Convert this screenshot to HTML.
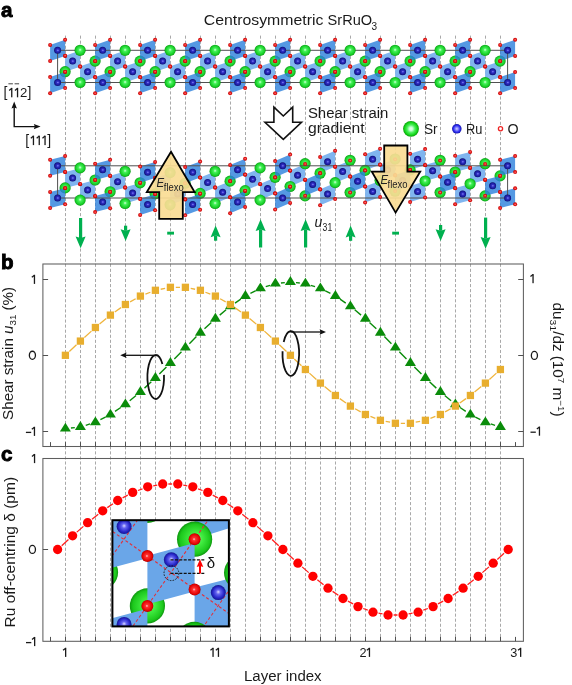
<!DOCTYPE html>
<html><head><meta charset="utf-8"><style>
html,body{margin:0;padding:0;background:#fff;overflow:hidden;}
svg{display:block;will-change:transform;}
text{font-family:"Liberation Sans", sans-serif;}
</style></head><body>
<svg width="572" height="685" viewBox="0 0 572 685">
<defs>
<radialGradient id="gSr" cx="0.5" cy="0.5" r="0.5" fx="0.5" fy="0.45">
 <stop offset="0" stop-color="#d8ffe0"/><stop offset="0.3" stop-color="#44f258"/><stop offset="0.8" stop-color="#16cc26"/><stop offset="1" stop-color="#0a9a14"/>
</radialGradient>
<radialGradient id="gRu" cx="0.5" cy="0.5" r="0.5" fx="0.55" fy="0.5">
 <stop offset="0" stop-color="#9a9aff"/><stop offset="0.3" stop-color="#3434c8"/><stop offset="0.8" stop-color="#181898"/><stop offset="1" stop-color="#0c0c6a"/>
</radialGradient>
<radialGradient id="gO" cx="0.5" cy="0.5" r="0.5">
 <stop offset="0" stop-color="#ffb0b0"/><stop offset="0.4" stop-color="#f02424"/><stop offset="1" stop-color="#c00000"/>
</radialGradient>
<radialGradient id="gSrL" cx="0.5" cy="0.5" r="0.5" fx="0.5" fy="0.5">
 <stop offset="0" stop-color="#eafff0"/><stop offset="0.22" stop-color="#c4ffd2"/><stop offset="0.5" stop-color="#4cf05c"/><stop offset="0.82" stop-color="#12d416"/><stop offset="1" stop-color="#0a960a"/>
</radialGradient>
<radialGradient id="gRuL" cx="0.5" cy="0.5" r="0.5" fx="0.5" fy="0.5">
 <stop offset="0" stop-color="#d4d4ff"/><stop offset="0.3" stop-color="#8a8aff"/><stop offset="0.7" stop-color="#2c2cee"/><stop offset="1" stop-color="#1414a8"/>
</radialGradient>
<radialGradient id="gSr2" cx="0.5" cy="0.5" r="0.5" fx="0.58" fy="0.48">
 <stop offset="0" stop-color="#b0ffb0"/><stop offset="0.3" stop-color="#46f046"/><stop offset="0.85" stop-color="#1cc81c"/><stop offset="1" stop-color="#0e960e"/>
</radialGradient>
<radialGradient id="gRu2" cx="0.5" cy="0.5" r="0.5" fx="0.5" fy="0.45">
 <stop offset="0" stop-color="#d8d8ff"/><stop offset="0.3" stop-color="#6464f0"/><stop offset="0.75" stop-color="#2626c8"/><stop offset="1" stop-color="#161690"/>
</radialGradient>
<radialGradient id="gO2" cx="0.5" cy="0.5" r="0.5" fx="0.45" fy="0.5">
 <stop offset="0" stop-color="#ffd0d0"/><stop offset="0.25" stop-color="#ff3030"/><stop offset="0.85" stop-color="#e00000"/><stop offset="1" stop-color="#a00000"/>
</radialGradient>
</defs>
<rect x="0" y="0" width="572" height="685" fill="#fff"/>
<line x1="65.5" y1="35.6" x2="65.5" y2="641" stroke="#a9a9a9" stroke-width="1" stroke-dasharray="3.1 1.97"/>
<line x1="80.5" y1="35.6" x2="80.5" y2="641" stroke="#a9a9a9" stroke-width="1" stroke-dasharray="3.1 1.97"/>
<line x1="95.5" y1="35.6" x2="95.5" y2="641" stroke="#a9a9a9" stroke-width="1" stroke-dasharray="3.1 1.97"/>
<line x1="110.5" y1="35.6" x2="110.5" y2="641" stroke="#a9a9a9" stroke-width="1" stroke-dasharray="3.1 1.97"/>
<line x1="125.5" y1="35.6" x2="125.5" y2="641" stroke="#a9a9a9" stroke-width="1" stroke-dasharray="3.1 1.97"/>
<line x1="140.5" y1="35.6" x2="140.5" y2="641" stroke="#a9a9a9" stroke-width="1" stroke-dasharray="3.1 1.97"/>
<line x1="155.5" y1="35.6" x2="155.5" y2="641" stroke="#a9a9a9" stroke-width="1" stroke-dasharray="3.1 1.97"/>
<line x1="170.5" y1="35.6" x2="170.5" y2="641" stroke="#a9a9a9" stroke-width="1" stroke-dasharray="3.1 1.97"/>
<line x1="185.5" y1="35.6" x2="185.5" y2="641" stroke="#a9a9a9" stroke-width="1" stroke-dasharray="3.1 1.97"/>
<line x1="200.5" y1="35.6" x2="200.5" y2="641" stroke="#a9a9a9" stroke-width="1" stroke-dasharray="3.1 1.97"/>
<line x1="215.5" y1="35.6" x2="215.5" y2="641" stroke="#a9a9a9" stroke-width="1" stroke-dasharray="3.1 1.97"/>
<line x1="230.5" y1="35.6" x2="230.5" y2="641" stroke="#a9a9a9" stroke-width="1" stroke-dasharray="3.1 1.97"/>
<line x1="245.5" y1="35.6" x2="245.5" y2="641" stroke="#a9a9a9" stroke-width="1" stroke-dasharray="3.1 1.97"/>
<line x1="260.5" y1="35.6" x2="260.5" y2="641" stroke="#a9a9a9" stroke-width="1" stroke-dasharray="3.1 1.97"/>
<line x1="275.5" y1="35.6" x2="275.5" y2="641" stroke="#a9a9a9" stroke-width="1" stroke-dasharray="3.1 1.97"/>
<line x1="290.5" y1="35.6" x2="290.5" y2="641" stroke="#a9a9a9" stroke-width="1" stroke-dasharray="3.1 1.97"/>
<line x1="305.5" y1="35.6" x2="305.5" y2="641" stroke="#a9a9a9" stroke-width="1" stroke-dasharray="3.1 1.97"/>
<line x1="320.5" y1="35.6" x2="320.5" y2="641" stroke="#a9a9a9" stroke-width="1" stroke-dasharray="3.1 1.97"/>
<line x1="335.5" y1="35.6" x2="335.5" y2="641" stroke="#a9a9a9" stroke-width="1" stroke-dasharray="3.1 1.97"/>
<line x1="350.5" y1="35.6" x2="350.5" y2="641" stroke="#a9a9a9" stroke-width="1" stroke-dasharray="3.1 1.97"/>
<line x1="365.5" y1="35.6" x2="365.5" y2="641" stroke="#a9a9a9" stroke-width="1" stroke-dasharray="3.1 1.97"/>
<line x1="380.5" y1="35.6" x2="380.5" y2="641" stroke="#a9a9a9" stroke-width="1" stroke-dasharray="3.1 1.97"/>
<line x1="395.5" y1="35.6" x2="395.5" y2="641" stroke="#a9a9a9" stroke-width="1" stroke-dasharray="3.1 1.97"/>
<line x1="410.5" y1="35.6" x2="410.5" y2="641" stroke="#a9a9a9" stroke-width="1" stroke-dasharray="3.1 1.97"/>
<line x1="425.5" y1="35.6" x2="425.5" y2="641" stroke="#a9a9a9" stroke-width="1" stroke-dasharray="3.1 1.97"/>
<line x1="440.5" y1="35.6" x2="440.5" y2="641" stroke="#a9a9a9" stroke-width="1" stroke-dasharray="3.1 1.97"/>
<line x1="455.5" y1="35.6" x2="455.5" y2="641" stroke="#a9a9a9" stroke-width="1" stroke-dasharray="3.1 1.97"/>
<line x1="470.5" y1="35.6" x2="470.5" y2="641" stroke="#a9a9a9" stroke-width="1" stroke-dasharray="3.1 1.97"/>
<line x1="485.5" y1="35.6" x2="485.5" y2="641" stroke="#a9a9a9" stroke-width="1" stroke-dasharray="3.1 1.97"/>
<line x1="500.5" y1="35.6" x2="500.5" y2="641" stroke="#a9a9a9" stroke-width="1" stroke-dasharray="3.1 1.97"/>
<polygon points="65.10,55.70 80.10,50.60 80.10,66.70 65.10,71.80" fill="#80b5ef"/>
<polygon points="80.10,66.30 95.10,61.20 95.10,77.30 80.10,82.40" fill="#80b5ef"/>
<polygon points="110.10,55.70 125.10,50.60 125.10,66.70 110.10,71.80" fill="#80b5ef"/>
<polygon points="125.10,66.30 140.10,61.20 140.10,77.30 125.10,82.40" fill="#80b5ef"/>
<polygon points="155.10,55.70 170.10,50.60 170.10,66.70 155.10,71.80" fill="#80b5ef"/>
<polygon points="170.10,66.30 185.10,61.20 185.10,77.30 170.10,82.40" fill="#80b5ef"/>
<polygon points="200.10,55.70 215.10,50.60 215.10,66.70 200.10,71.80" fill="#80b5ef"/>
<polygon points="215.10,66.30 230.10,61.20 230.10,77.30 215.10,82.40" fill="#80b5ef"/>
<polygon points="245.10,55.70 260.10,50.60 260.10,66.70 245.10,71.80" fill="#80b5ef"/>
<polygon points="260.10,66.30 275.10,61.20 275.10,77.30 260.10,82.40" fill="#80b5ef"/>
<polygon points="290.10,55.70 305.10,50.60 305.10,66.70 290.10,71.80" fill="#80b5ef"/>
<polygon points="305.10,66.30 320.10,61.20 320.10,77.30 305.10,82.40" fill="#80b5ef"/>
<polygon points="335.10,55.70 350.10,50.60 350.10,66.70 335.10,71.80" fill="#80b5ef"/>
<polygon points="350.10,66.30 365.10,61.20 365.10,77.30 350.10,82.40" fill="#80b5ef"/>
<polygon points="380.10,55.70 395.10,50.60 395.10,66.70 380.10,71.80" fill="#80b5ef"/>
<polygon points="395.10,66.30 410.10,61.20 410.10,77.30 395.10,82.40" fill="#80b5ef"/>
<polygon points="425.10,55.70 440.10,50.60 440.10,66.70 425.10,71.80" fill="#80b5ef"/>
<polygon points="440.10,66.30 455.10,61.20 455.10,77.30 440.10,82.40" fill="#80b5ef"/>
<polygon points="470.10,55.70 485.10,50.60 485.10,66.70 470.10,71.80" fill="#80b5ef"/>
<polygon points="485.10,66.30 500.10,61.20 500.10,77.30 485.10,82.40" fill="#80b5ef"/>
<circle cx="65.10" cy="71.70" r="5.6" fill="url(#gSr)"/>
<circle cx="95.10" cy="61.10" r="5.6" fill="url(#gSr)"/>
<circle cx="110.10" cy="71.70" r="5.6" fill="url(#gSr)"/>
<circle cx="140.10" cy="61.10" r="5.6" fill="url(#gSr)"/>
<circle cx="155.10" cy="71.70" r="5.6" fill="url(#gSr)"/>
<circle cx="185.10" cy="61.10" r="5.6" fill="url(#gSr)"/>
<circle cx="200.10" cy="71.70" r="5.6" fill="url(#gSr)"/>
<circle cx="230.10" cy="61.10" r="5.6" fill="url(#gSr)"/>
<circle cx="245.10" cy="71.70" r="5.6" fill="url(#gSr)"/>
<circle cx="275.10" cy="61.10" r="5.6" fill="url(#gSr)"/>
<circle cx="290.10" cy="71.70" r="5.6" fill="url(#gSr)"/>
<circle cx="320.10" cy="61.10" r="5.6" fill="url(#gSr)"/>
<circle cx="335.10" cy="71.70" r="5.6" fill="url(#gSr)"/>
<circle cx="365.10" cy="61.10" r="5.6" fill="url(#gSr)"/>
<circle cx="380.10" cy="71.70" r="5.6" fill="url(#gSr)"/>
<circle cx="410.10" cy="61.10" r="5.6" fill="url(#gSr)"/>
<circle cx="425.10" cy="71.70" r="5.6" fill="url(#gSr)"/>
<circle cx="455.10" cy="61.10" r="5.6" fill="url(#gSr)"/>
<circle cx="470.10" cy="71.70" r="5.6" fill="url(#gSr)"/>
<circle cx="500.10" cy="61.10" r="5.6" fill="url(#gSr)"/>
<polygon points="50.10,44.90 65.10,39.80 65.10,55.90 50.10,61.00" fill="#2b7fdc" fill-opacity="0.8"/>
<polygon points="50.10,77.10 65.10,72.00 65.10,88.10 50.10,93.20" fill="#2b7fdc" fill-opacity="0.8"/>
<polygon points="95.10,44.90 110.10,39.80 110.10,55.90 95.10,61.00" fill="#2b7fdc" fill-opacity="0.8"/>
<polygon points="95.10,77.10 110.10,72.00 110.10,88.10 95.10,93.20" fill="#2b7fdc" fill-opacity="0.8"/>
<polygon points="140.10,44.90 155.10,39.80 155.10,55.90 140.10,61.00" fill="#2b7fdc" fill-opacity="0.8"/>
<polygon points="140.10,77.10 155.10,72.00 155.10,88.10 140.10,93.20" fill="#2b7fdc" fill-opacity="0.8"/>
<polygon points="185.10,44.90 200.10,39.80 200.10,55.90 185.10,61.00" fill="#2b7fdc" fill-opacity="0.8"/>
<polygon points="185.10,77.10 200.10,72.00 200.10,88.10 185.10,93.20" fill="#2b7fdc" fill-opacity="0.8"/>
<polygon points="230.10,44.90 245.10,39.80 245.10,55.90 230.10,61.00" fill="#2b7fdc" fill-opacity="0.8"/>
<polygon points="230.10,77.10 245.10,72.00 245.10,88.10 230.10,93.20" fill="#2b7fdc" fill-opacity="0.8"/>
<polygon points="275.10,44.90 290.10,39.80 290.10,55.90 275.10,61.00" fill="#2b7fdc" fill-opacity="0.8"/>
<polygon points="275.10,77.10 290.10,72.00 290.10,88.10 275.10,93.20" fill="#2b7fdc" fill-opacity="0.8"/>
<polygon points="320.10,44.90 335.10,39.80 335.10,55.90 320.10,61.00" fill="#2b7fdc" fill-opacity="0.8"/>
<polygon points="320.10,77.10 335.10,72.00 335.10,88.10 320.10,93.20" fill="#2b7fdc" fill-opacity="0.8"/>
<polygon points="365.10,44.90 380.10,39.80 380.10,55.90 365.10,61.00" fill="#2b7fdc" fill-opacity="0.8"/>
<polygon points="365.10,77.10 380.10,72.00 380.10,88.10 365.10,93.20" fill="#2b7fdc" fill-opacity="0.8"/>
<polygon points="410.10,44.90 425.10,39.80 425.10,55.90 410.10,61.00" fill="#2b7fdc" fill-opacity="0.8"/>
<polygon points="410.10,77.10 425.10,72.00 425.10,88.10 410.10,93.20" fill="#2b7fdc" fill-opacity="0.8"/>
<polygon points="455.10,44.90 470.10,39.80 470.10,55.90 455.10,61.00" fill="#2b7fdc" fill-opacity="0.8"/>
<polygon points="455.10,77.10 470.10,72.00 470.10,88.10 455.10,93.20" fill="#2b7fdc" fill-opacity="0.8"/>
<polygon points="500.10,44.90 515.10,39.80 515.10,55.90 500.10,61.00" fill="#2b7fdc" fill-opacity="0.8"/>
<polygon points="500.10,77.10 515.10,72.00 515.10,88.10 500.10,93.20" fill="#2b7fdc" fill-opacity="0.8"/>
<rect x="57.6" y="50.30" width="450.0" height="32.20" fill="none" stroke="#505050" stroke-width="1"/>
<circle cx="57.60" cy="50.30" r="3.5" fill="url(#gRu)"/>
<circle cx="57.60" cy="82.50" r="3.5" fill="url(#gRu)"/>
<circle cx="72.60" cy="61.10" r="3.5" fill="url(#gRu)"/>
<circle cx="87.60" cy="71.70" r="3.5" fill="url(#gRu)"/>
<circle cx="102.60" cy="50.30" r="3.5" fill="url(#gRu)"/>
<circle cx="102.60" cy="82.50" r="3.5" fill="url(#gRu)"/>
<circle cx="117.60" cy="61.10" r="3.5" fill="url(#gRu)"/>
<circle cx="132.60" cy="71.70" r="3.5" fill="url(#gRu)"/>
<circle cx="147.60" cy="50.30" r="3.5" fill="url(#gRu)"/>
<circle cx="147.60" cy="82.50" r="3.5" fill="url(#gRu)"/>
<circle cx="162.60" cy="61.10" r="3.5" fill="url(#gRu)"/>
<circle cx="177.60" cy="71.70" r="3.5" fill="url(#gRu)"/>
<circle cx="192.60" cy="50.30" r="3.5" fill="url(#gRu)"/>
<circle cx="192.60" cy="82.50" r="3.5" fill="url(#gRu)"/>
<circle cx="207.60" cy="61.10" r="3.5" fill="url(#gRu)"/>
<circle cx="222.60" cy="71.70" r="3.5" fill="url(#gRu)"/>
<circle cx="237.60" cy="50.30" r="3.5" fill="url(#gRu)"/>
<circle cx="237.60" cy="82.50" r="3.5" fill="url(#gRu)"/>
<circle cx="252.60" cy="61.10" r="3.5" fill="url(#gRu)"/>
<circle cx="267.60" cy="71.70" r="3.5" fill="url(#gRu)"/>
<circle cx="282.60" cy="50.30" r="3.5" fill="url(#gRu)"/>
<circle cx="282.60" cy="82.50" r="3.5" fill="url(#gRu)"/>
<circle cx="297.60" cy="61.10" r="3.5" fill="url(#gRu)"/>
<circle cx="312.60" cy="71.70" r="3.5" fill="url(#gRu)"/>
<circle cx="327.60" cy="50.30" r="3.5" fill="url(#gRu)"/>
<circle cx="327.60" cy="82.50" r="3.5" fill="url(#gRu)"/>
<circle cx="342.60" cy="61.10" r="3.5" fill="url(#gRu)"/>
<circle cx="357.60" cy="71.70" r="3.5" fill="url(#gRu)"/>
<circle cx="372.60" cy="50.30" r="3.5" fill="url(#gRu)"/>
<circle cx="372.60" cy="82.50" r="3.5" fill="url(#gRu)"/>
<circle cx="387.60" cy="61.10" r="3.5" fill="url(#gRu)"/>
<circle cx="402.60" cy="71.70" r="3.5" fill="url(#gRu)"/>
<circle cx="417.60" cy="50.30" r="3.5" fill="url(#gRu)"/>
<circle cx="417.60" cy="82.50" r="3.5" fill="url(#gRu)"/>
<circle cx="432.60" cy="61.10" r="3.5" fill="url(#gRu)"/>
<circle cx="447.60" cy="71.70" r="3.5" fill="url(#gRu)"/>
<circle cx="462.60" cy="50.30" r="3.5" fill="url(#gRu)"/>
<circle cx="462.60" cy="82.50" r="3.5" fill="url(#gRu)"/>
<circle cx="477.60" cy="61.10" r="3.5" fill="url(#gRu)"/>
<circle cx="492.60" cy="71.70" r="3.5" fill="url(#gRu)"/>
<circle cx="507.60" cy="50.30" r="3.5" fill="url(#gRu)"/>
<circle cx="507.60" cy="82.50" r="3.5" fill="url(#gRu)"/>
<circle cx="50.10" cy="44.90" r="2" fill="url(#gO)"/>
<circle cx="65.10" cy="39.80" r="2" fill="url(#gO)"/>
<circle cx="65.10" cy="55.90" r="2" fill="url(#gO)"/>
<circle cx="50.10" cy="61.00" r="2" fill="url(#gO)"/>
<circle cx="50.10" cy="77.10" r="2" fill="url(#gO)"/>
<circle cx="65.10" cy="72.00" r="2" fill="url(#gO)"/>
<circle cx="65.10" cy="88.10" r="2" fill="url(#gO)"/>
<circle cx="50.10" cy="93.20" r="2" fill="url(#gO)"/>
<circle cx="65.10" cy="55.70" r="2" fill="url(#gO)"/>
<circle cx="80.10" cy="50.60" r="2" fill="url(#gO)"/>
<circle cx="80.10" cy="66.70" r="2" fill="url(#gO)"/>
<circle cx="65.10" cy="71.80" r="2" fill="url(#gO)"/>
<circle cx="80.10" cy="66.30" r="2" fill="url(#gO)"/>
<circle cx="95.10" cy="61.20" r="2" fill="url(#gO)"/>
<circle cx="95.10" cy="77.30" r="2" fill="url(#gO)"/>
<circle cx="80.10" cy="82.40" r="2" fill="url(#gO)"/>
<circle cx="95.10" cy="44.90" r="2" fill="url(#gO)"/>
<circle cx="110.10" cy="39.80" r="2" fill="url(#gO)"/>
<circle cx="110.10" cy="55.90" r="2" fill="url(#gO)"/>
<circle cx="95.10" cy="61.00" r="2" fill="url(#gO)"/>
<circle cx="95.10" cy="77.10" r="2" fill="url(#gO)"/>
<circle cx="110.10" cy="72.00" r="2" fill="url(#gO)"/>
<circle cx="110.10" cy="88.10" r="2" fill="url(#gO)"/>
<circle cx="95.10" cy="93.20" r="2" fill="url(#gO)"/>
<circle cx="110.10" cy="55.70" r="2" fill="url(#gO)"/>
<circle cx="125.10" cy="50.60" r="2" fill="url(#gO)"/>
<circle cx="125.10" cy="66.70" r="2" fill="url(#gO)"/>
<circle cx="110.10" cy="71.80" r="2" fill="url(#gO)"/>
<circle cx="125.10" cy="66.30" r="2" fill="url(#gO)"/>
<circle cx="140.10" cy="61.20" r="2" fill="url(#gO)"/>
<circle cx="140.10" cy="77.30" r="2" fill="url(#gO)"/>
<circle cx="125.10" cy="82.40" r="2" fill="url(#gO)"/>
<circle cx="140.10" cy="44.90" r="2" fill="url(#gO)"/>
<circle cx="155.10" cy="39.80" r="2" fill="url(#gO)"/>
<circle cx="155.10" cy="55.90" r="2" fill="url(#gO)"/>
<circle cx="140.10" cy="61.00" r="2" fill="url(#gO)"/>
<circle cx="140.10" cy="77.10" r="2" fill="url(#gO)"/>
<circle cx="155.10" cy="72.00" r="2" fill="url(#gO)"/>
<circle cx="155.10" cy="88.10" r="2" fill="url(#gO)"/>
<circle cx="140.10" cy="93.20" r="2" fill="url(#gO)"/>
<circle cx="155.10" cy="55.70" r="2" fill="url(#gO)"/>
<circle cx="170.10" cy="50.60" r="2" fill="url(#gO)"/>
<circle cx="170.10" cy="66.70" r="2" fill="url(#gO)"/>
<circle cx="155.10" cy="71.80" r="2" fill="url(#gO)"/>
<circle cx="170.10" cy="66.30" r="2" fill="url(#gO)"/>
<circle cx="185.10" cy="61.20" r="2" fill="url(#gO)"/>
<circle cx="185.10" cy="77.30" r="2" fill="url(#gO)"/>
<circle cx="170.10" cy="82.40" r="2" fill="url(#gO)"/>
<circle cx="185.10" cy="44.90" r="2" fill="url(#gO)"/>
<circle cx="200.10" cy="39.80" r="2" fill="url(#gO)"/>
<circle cx="200.10" cy="55.90" r="2" fill="url(#gO)"/>
<circle cx="185.10" cy="61.00" r="2" fill="url(#gO)"/>
<circle cx="185.10" cy="77.10" r="2" fill="url(#gO)"/>
<circle cx="200.10" cy="72.00" r="2" fill="url(#gO)"/>
<circle cx="200.10" cy="88.10" r="2" fill="url(#gO)"/>
<circle cx="185.10" cy="93.20" r="2" fill="url(#gO)"/>
<circle cx="200.10" cy="55.70" r="2" fill="url(#gO)"/>
<circle cx="215.10" cy="50.60" r="2" fill="url(#gO)"/>
<circle cx="215.10" cy="66.70" r="2" fill="url(#gO)"/>
<circle cx="200.10" cy="71.80" r="2" fill="url(#gO)"/>
<circle cx="215.10" cy="66.30" r="2" fill="url(#gO)"/>
<circle cx="230.10" cy="61.20" r="2" fill="url(#gO)"/>
<circle cx="230.10" cy="77.30" r="2" fill="url(#gO)"/>
<circle cx="215.10" cy="82.40" r="2" fill="url(#gO)"/>
<circle cx="230.10" cy="44.90" r="2" fill="url(#gO)"/>
<circle cx="245.10" cy="39.80" r="2" fill="url(#gO)"/>
<circle cx="245.10" cy="55.90" r="2" fill="url(#gO)"/>
<circle cx="230.10" cy="61.00" r="2" fill="url(#gO)"/>
<circle cx="230.10" cy="77.10" r="2" fill="url(#gO)"/>
<circle cx="245.10" cy="72.00" r="2" fill="url(#gO)"/>
<circle cx="245.10" cy="88.10" r="2" fill="url(#gO)"/>
<circle cx="230.10" cy="93.20" r="2" fill="url(#gO)"/>
<circle cx="245.10" cy="55.70" r="2" fill="url(#gO)"/>
<circle cx="260.10" cy="50.60" r="2" fill="url(#gO)"/>
<circle cx="260.10" cy="66.70" r="2" fill="url(#gO)"/>
<circle cx="245.10" cy="71.80" r="2" fill="url(#gO)"/>
<circle cx="260.10" cy="66.30" r="2" fill="url(#gO)"/>
<circle cx="275.10" cy="61.20" r="2" fill="url(#gO)"/>
<circle cx="275.10" cy="77.30" r="2" fill="url(#gO)"/>
<circle cx="260.10" cy="82.40" r="2" fill="url(#gO)"/>
<circle cx="275.10" cy="44.90" r="2" fill="url(#gO)"/>
<circle cx="290.10" cy="39.80" r="2" fill="url(#gO)"/>
<circle cx="290.10" cy="55.90" r="2" fill="url(#gO)"/>
<circle cx="275.10" cy="61.00" r="2" fill="url(#gO)"/>
<circle cx="275.10" cy="77.10" r="2" fill="url(#gO)"/>
<circle cx="290.10" cy="72.00" r="2" fill="url(#gO)"/>
<circle cx="290.10" cy="88.10" r="2" fill="url(#gO)"/>
<circle cx="275.10" cy="93.20" r="2" fill="url(#gO)"/>
<circle cx="290.10" cy="55.70" r="2" fill="url(#gO)"/>
<circle cx="305.10" cy="50.60" r="2" fill="url(#gO)"/>
<circle cx="305.10" cy="66.70" r="2" fill="url(#gO)"/>
<circle cx="290.10" cy="71.80" r="2" fill="url(#gO)"/>
<circle cx="305.10" cy="66.30" r="2" fill="url(#gO)"/>
<circle cx="320.10" cy="61.20" r="2" fill="url(#gO)"/>
<circle cx="320.10" cy="77.30" r="2" fill="url(#gO)"/>
<circle cx="305.10" cy="82.40" r="2" fill="url(#gO)"/>
<circle cx="320.10" cy="44.90" r="2" fill="url(#gO)"/>
<circle cx="335.10" cy="39.80" r="2" fill="url(#gO)"/>
<circle cx="335.10" cy="55.90" r="2" fill="url(#gO)"/>
<circle cx="320.10" cy="61.00" r="2" fill="url(#gO)"/>
<circle cx="320.10" cy="77.10" r="2" fill="url(#gO)"/>
<circle cx="335.10" cy="72.00" r="2" fill="url(#gO)"/>
<circle cx="335.10" cy="88.10" r="2" fill="url(#gO)"/>
<circle cx="320.10" cy="93.20" r="2" fill="url(#gO)"/>
<circle cx="335.10" cy="55.70" r="2" fill="url(#gO)"/>
<circle cx="350.10" cy="50.60" r="2" fill="url(#gO)"/>
<circle cx="350.10" cy="66.70" r="2" fill="url(#gO)"/>
<circle cx="335.10" cy="71.80" r="2" fill="url(#gO)"/>
<circle cx="350.10" cy="66.30" r="2" fill="url(#gO)"/>
<circle cx="365.10" cy="61.20" r="2" fill="url(#gO)"/>
<circle cx="365.10" cy="77.30" r="2" fill="url(#gO)"/>
<circle cx="350.10" cy="82.40" r="2" fill="url(#gO)"/>
<circle cx="365.10" cy="44.90" r="2" fill="url(#gO)"/>
<circle cx="380.10" cy="39.80" r="2" fill="url(#gO)"/>
<circle cx="380.10" cy="55.90" r="2" fill="url(#gO)"/>
<circle cx="365.10" cy="61.00" r="2" fill="url(#gO)"/>
<circle cx="365.10" cy="77.10" r="2" fill="url(#gO)"/>
<circle cx="380.10" cy="72.00" r="2" fill="url(#gO)"/>
<circle cx="380.10" cy="88.10" r="2" fill="url(#gO)"/>
<circle cx="365.10" cy="93.20" r="2" fill="url(#gO)"/>
<circle cx="380.10" cy="55.70" r="2" fill="url(#gO)"/>
<circle cx="395.10" cy="50.60" r="2" fill="url(#gO)"/>
<circle cx="395.10" cy="66.70" r="2" fill="url(#gO)"/>
<circle cx="380.10" cy="71.80" r="2" fill="url(#gO)"/>
<circle cx="395.10" cy="66.30" r="2" fill="url(#gO)"/>
<circle cx="410.10" cy="61.20" r="2" fill="url(#gO)"/>
<circle cx="410.10" cy="77.30" r="2" fill="url(#gO)"/>
<circle cx="395.10" cy="82.40" r="2" fill="url(#gO)"/>
<circle cx="410.10" cy="44.90" r="2" fill="url(#gO)"/>
<circle cx="425.10" cy="39.80" r="2" fill="url(#gO)"/>
<circle cx="425.10" cy="55.90" r="2" fill="url(#gO)"/>
<circle cx="410.10" cy="61.00" r="2" fill="url(#gO)"/>
<circle cx="410.10" cy="77.10" r="2" fill="url(#gO)"/>
<circle cx="425.10" cy="72.00" r="2" fill="url(#gO)"/>
<circle cx="425.10" cy="88.10" r="2" fill="url(#gO)"/>
<circle cx="410.10" cy="93.20" r="2" fill="url(#gO)"/>
<circle cx="425.10" cy="55.70" r="2" fill="url(#gO)"/>
<circle cx="440.10" cy="50.60" r="2" fill="url(#gO)"/>
<circle cx="440.10" cy="66.70" r="2" fill="url(#gO)"/>
<circle cx="425.10" cy="71.80" r="2" fill="url(#gO)"/>
<circle cx="440.10" cy="66.30" r="2" fill="url(#gO)"/>
<circle cx="455.10" cy="61.20" r="2" fill="url(#gO)"/>
<circle cx="455.10" cy="77.30" r="2" fill="url(#gO)"/>
<circle cx="440.10" cy="82.40" r="2" fill="url(#gO)"/>
<circle cx="455.10" cy="44.90" r="2" fill="url(#gO)"/>
<circle cx="470.10" cy="39.80" r="2" fill="url(#gO)"/>
<circle cx="470.10" cy="55.90" r="2" fill="url(#gO)"/>
<circle cx="455.10" cy="61.00" r="2" fill="url(#gO)"/>
<circle cx="455.10" cy="77.10" r="2" fill="url(#gO)"/>
<circle cx="470.10" cy="72.00" r="2" fill="url(#gO)"/>
<circle cx="470.10" cy="88.10" r="2" fill="url(#gO)"/>
<circle cx="455.10" cy="93.20" r="2" fill="url(#gO)"/>
<circle cx="470.10" cy="55.70" r="2" fill="url(#gO)"/>
<circle cx="485.10" cy="50.60" r="2" fill="url(#gO)"/>
<circle cx="485.10" cy="66.70" r="2" fill="url(#gO)"/>
<circle cx="470.10" cy="71.80" r="2" fill="url(#gO)"/>
<circle cx="485.10" cy="66.30" r="2" fill="url(#gO)"/>
<circle cx="500.10" cy="61.20" r="2" fill="url(#gO)"/>
<circle cx="500.10" cy="77.30" r="2" fill="url(#gO)"/>
<circle cx="485.10" cy="82.40" r="2" fill="url(#gO)"/>
<circle cx="500.10" cy="44.90" r="2" fill="url(#gO)"/>
<circle cx="515.10" cy="39.80" r="2" fill="url(#gO)"/>
<circle cx="515.10" cy="55.90" r="2" fill="url(#gO)"/>
<circle cx="500.10" cy="61.00" r="2" fill="url(#gO)"/>
<circle cx="500.10" cy="77.10" r="2" fill="url(#gO)"/>
<circle cx="515.10" cy="72.00" r="2" fill="url(#gO)"/>
<circle cx="515.10" cy="88.10" r="2" fill="url(#gO)"/>
<circle cx="500.10" cy="93.20" r="2" fill="url(#gO)"/>
<circle cx="80.10" cy="50.30" r="5.6" fill="url(#gSr)"/>
<circle cx="80.10" cy="82.50" r="5.6" fill="url(#gSr)"/>
<circle cx="125.10" cy="50.30" r="5.6" fill="url(#gSr)"/>
<circle cx="125.10" cy="82.50" r="5.6" fill="url(#gSr)"/>
<circle cx="170.10" cy="50.30" r="5.6" fill="url(#gSr)"/>
<circle cx="170.10" cy="82.50" r="5.6" fill="url(#gSr)"/>
<circle cx="215.10" cy="50.30" r="5.6" fill="url(#gSr)"/>
<circle cx="215.10" cy="82.50" r="5.6" fill="url(#gSr)"/>
<circle cx="260.10" cy="50.30" r="5.6" fill="url(#gSr)"/>
<circle cx="260.10" cy="82.50" r="5.6" fill="url(#gSr)"/>
<circle cx="305.10" cy="50.30" r="5.6" fill="url(#gSr)"/>
<circle cx="305.10" cy="82.50" r="5.6" fill="url(#gSr)"/>
<circle cx="350.10" cy="50.30" r="5.6" fill="url(#gSr)"/>
<circle cx="350.10" cy="82.50" r="5.6" fill="url(#gSr)"/>
<circle cx="395.10" cy="50.30" r="5.6" fill="url(#gSr)"/>
<circle cx="395.10" cy="82.50" r="5.6" fill="url(#gSr)"/>
<circle cx="440.10" cy="50.30" r="5.6" fill="url(#gSr)"/>
<circle cx="440.10" cy="82.50" r="5.6" fill="url(#gSr)"/>
<circle cx="485.10" cy="50.30" r="5.6" fill="url(#gSr)"/>
<circle cx="485.10" cy="82.50" r="5.6" fill="url(#gSr)"/>
<polygon points="65.10,171.91 80.10,168.20 80.10,184.30 65.10,188.01" fill="#80b5ef"/>
<polygon points="80.10,183.90 95.10,180.10 95.10,196.20 80.10,200.00" fill="#80b5ef"/>
<polygon points="110.10,175.75 125.10,171.60 125.10,187.70 110.10,191.85" fill="#80b5ef"/>
<polygon points="125.10,187.30 140.10,182.91 140.10,199.01 125.10,203.40" fill="#80b5ef"/>
<polygon points="155.10,177.85 170.10,172.90 170.10,189.00 155.10,193.95" fill="#80b5ef"/>
<polygon points="170.10,188.60 185.10,183.35 185.10,199.45 170.10,204.70" fill="#80b5ef"/>
<polygon points="200.10,177.41 215.10,171.60 215.10,187.70 200.10,193.51" fill="#80b5ef"/>
<polygon points="215.10,187.30 230.10,181.25 230.10,197.35 215.10,203.40" fill="#80b5ef"/>
<polygon points="245.10,174.60 260.10,168.20 260.10,184.30 245.10,190.70" fill="#80b5ef"/>
<polygon points="260.10,183.90 275.10,177.41 275.10,193.51 260.10,200.00" fill="#80b5ef"/>
<polygon points="290.10,170.49 305.10,164.00 305.10,180.10 290.10,186.59" fill="#80b5ef"/>
<polygon points="320.10,157.00 335.10,150.75 335.10,166.85 320.10,173.10" fill="#80b5ef"/>
<polygon points="320.10,189.20 335.10,182.95 335.10,199.05 320.10,205.30" fill="#80b5ef"/>
<polygon points="335.10,166.65 350.10,160.60 350.10,176.70 335.10,182.75" fill="#80b5ef"/>
<polygon points="365.10,154.19 380.10,148.65 380.10,164.75 365.10,170.29" fill="#80b5ef"/>
<polygon points="365.10,186.39 380.10,180.85 380.10,196.95 365.10,202.49" fill="#80b5ef"/>
<polygon points="380.10,164.55 395.10,159.30 395.10,175.40 380.10,180.65" fill="#80b5ef"/>
<polygon points="410.10,153.75 425.10,149.09 425.10,165.19 410.10,169.85" fill="#80b5ef"/>
<polygon points="410.10,185.95 425.10,181.29 425.10,197.39 410.10,202.05" fill="#80b5ef"/>
<polygon points="425.10,164.99 440.10,160.60 440.10,176.70 425.10,181.09" fill="#80b5ef"/>
<polygon points="455.10,155.85 470.10,151.90 470.10,168.00 455.10,171.95" fill="#80b5ef"/>
<polygon points="455.10,188.05 470.10,184.10 470.10,200.20 455.10,204.15" fill="#80b5ef"/>
<polygon points="470.10,167.80 485.10,164.00 485.10,180.10 470.10,183.90" fill="#80b5ef"/>
<circle cx="65.10" cy="187.91" r="5.6" fill="url(#gSr)"/>
<circle cx="95.10" cy="180.00" r="5.6" fill="url(#gSr)"/>
<circle cx="110.10" cy="191.75" r="5.6" fill="url(#gSr)"/>
<circle cx="140.10" cy="182.81" r="5.6" fill="url(#gSr)"/>
<circle cx="155.10" cy="193.85" r="5.6" fill="url(#gSr)"/>
<circle cx="185.10" cy="183.25" r="5.6" fill="url(#gSr)"/>
<circle cx="200.10" cy="193.41" r="5.6" fill="url(#gSr)"/>
<circle cx="230.10" cy="181.15" r="5.6" fill="url(#gSr)"/>
<circle cx="245.10" cy="190.60" r="5.6" fill="url(#gSr)"/>
<circle cx="275.10" cy="177.31" r="5.6" fill="url(#gSr)"/>
<circle cx="290.10" cy="186.49" r="5.6" fill="url(#gSr)"/>
<circle cx="305.10" cy="163.70" r="5.6" fill="url(#gSr)"/>
<circle cx="305.10" cy="195.90" r="5.6" fill="url(#gSr)"/>
<circle cx="320.10" cy="173.20" r="5.6" fill="url(#gSr)"/>
<circle cx="350.10" cy="160.30" r="5.6" fill="url(#gSr)"/>
<circle cx="350.10" cy="192.50" r="5.6" fill="url(#gSr)"/>
<circle cx="365.10" cy="170.39" r="5.6" fill="url(#gSr)"/>
<circle cx="395.10" cy="159.00" r="5.6" fill="url(#gSr)"/>
<circle cx="395.10" cy="191.20" r="5.6" fill="url(#gSr)"/>
<circle cx="410.10" cy="169.95" r="5.6" fill="url(#gSr)"/>
<circle cx="440.10" cy="160.30" r="5.6" fill="url(#gSr)"/>
<circle cx="440.10" cy="192.50" r="5.6" fill="url(#gSr)"/>
<circle cx="455.10" cy="172.05" r="5.6" fill="url(#gSr)"/>
<circle cx="485.10" cy="163.70" r="5.6" fill="url(#gSr)"/>
<circle cx="485.10" cy="195.90" r="5.6" fill="url(#gSr)"/>
<circle cx="500.10" cy="175.89" r="5.6" fill="url(#gSr)"/>
<polygon points="50.10,159.69 65.10,156.01 65.10,172.11 50.10,175.79" fill="#2b7fdc" fill-opacity="0.8"/>
<polygon points="50.10,191.89 65.10,188.21 65.10,204.31 50.10,207.99" fill="#2b7fdc" fill-opacity="0.8"/>
<polygon points="95.10,163.80 110.10,159.85 110.10,175.95 95.10,179.90" fill="#2b7fdc" fill-opacity="0.8"/>
<polygon points="95.10,196.00 110.10,192.05 110.10,208.15 95.10,212.10" fill="#2b7fdc" fill-opacity="0.8"/>
<polygon points="140.10,166.61 155.10,161.95 155.10,178.05 140.10,182.71" fill="#2b7fdc" fill-opacity="0.8"/>
<polygon points="140.10,198.81 155.10,194.15 155.10,210.25 140.10,214.91" fill="#2b7fdc" fill-opacity="0.8"/>
<polygon points="185.10,167.05 200.10,161.51 200.10,177.61 185.10,183.15" fill="#2b7fdc" fill-opacity="0.8"/>
<polygon points="185.10,199.25 200.10,193.71 200.10,209.81 185.10,215.35" fill="#2b7fdc" fill-opacity="0.8"/>
<polygon points="230.10,164.95 245.10,158.70 245.10,174.80 230.10,181.05" fill="#2b7fdc" fill-opacity="0.8"/>
<polygon points="230.10,197.15 245.10,190.90 245.10,207.00 230.10,213.25" fill="#2b7fdc" fill-opacity="0.8"/>
<polygon points="275.10,161.11 290.10,154.59 290.10,170.69 275.10,177.21" fill="#2b7fdc" fill-opacity="0.8"/>
<polygon points="275.10,193.31 290.10,186.79 290.10,202.89 275.10,209.41" fill="#2b7fdc" fill-opacity="0.8"/>
<polygon points="305.10,179.70 320.10,173.30 320.10,189.40 305.10,195.80" fill="#2b7fdc" fill-opacity="0.8"/>
<polygon points="350.10,176.30 365.10,170.49 365.10,186.59 350.10,192.40" fill="#2b7fdc" fill-opacity="0.8"/>
<polygon points="395.10,175.00 410.10,170.05 410.10,186.15 395.10,191.10" fill="#2b7fdc" fill-opacity="0.8"/>
<polygon points="440.10,176.30 455.10,172.15 455.10,188.25 440.10,192.40" fill="#2b7fdc" fill-opacity="0.8"/>
<polygon points="485.10,179.70 500.10,175.99 500.10,192.09 485.10,195.80" fill="#2b7fdc" fill-opacity="0.8"/>
<polygon points="500.10,159.69 515.10,156.01 515.10,172.11 500.10,175.79" fill="#2b7fdc" fill-opacity="0.8"/>
<polygon points="500.10,191.89 515.10,188.21 515.10,204.31 500.10,207.99" fill="#2b7fdc" fill-opacity="0.8"/>
<rect x="57.6" y="165.80" width="450.0" height="32.20" fill="none" stroke="#505050" stroke-width="1"/>
<circle cx="57.60" cy="165.80" r="3.5" fill="url(#gRu)"/>
<circle cx="57.60" cy="198.00" r="3.5" fill="url(#gRu)"/>
<circle cx="72.60" cy="178.01" r="3.5" fill="url(#gRu)"/>
<circle cx="87.60" cy="189.97" r="3.5" fill="url(#gRu)"/>
<circle cx="102.60" cy="169.80" r="3.5" fill="url(#gRu)"/>
<circle cx="102.60" cy="202.00" r="3.5" fill="url(#gRu)"/>
<circle cx="117.60" cy="181.65" r="3.5" fill="url(#gRu)"/>
<circle cx="132.60" cy="193.09" r="3.5" fill="url(#gRu)"/>
<circle cx="147.60" cy="172.27" r="3.5" fill="url(#gRu)"/>
<circle cx="147.60" cy="204.47" r="3.5" fill="url(#gRu)"/>
<circle cx="162.60" cy="183.36" r="3.5" fill="url(#gRu)"/>
<circle cx="177.60" cy="193.96" r="3.5" fill="url(#gRu)"/>
<circle cx="192.60" cy="172.27" r="3.5" fill="url(#gRu)"/>
<circle cx="192.60" cy="204.47" r="3.5" fill="url(#gRu)"/>
<circle cx="207.60" cy="182.49" r="3.5" fill="url(#gRu)"/>
<circle cx="222.60" cy="192.25" r="3.5" fill="url(#gRu)"/>
<circle cx="237.60" cy="169.80" r="3.5" fill="url(#gRu)"/>
<circle cx="237.60" cy="202.00" r="3.5" fill="url(#gRu)"/>
<circle cx="252.60" cy="179.37" r="3.5" fill="url(#gRu)"/>
<circle cx="267.60" cy="188.61" r="3.5" fill="url(#gRu)"/>
<circle cx="282.60" cy="165.80" r="3.5" fill="url(#gRu)"/>
<circle cx="282.60" cy="198.00" r="3.5" fill="url(#gRu)"/>
<circle cx="297.60" cy="175.19" r="3.5" fill="url(#gRu)"/>
<circle cx="312.60" cy="184.43" r="3.5" fill="url(#gRu)"/>
<circle cx="327.60" cy="161.80" r="3.5" fill="url(#gRu)"/>
<circle cx="327.60" cy="194.00" r="3.5" fill="url(#gRu)"/>
<circle cx="342.60" cy="171.55" r="3.5" fill="url(#gRu)"/>
<circle cx="357.60" cy="181.31" r="3.5" fill="url(#gRu)"/>
<circle cx="372.60" cy="159.33" r="3.5" fill="url(#gRu)"/>
<circle cx="372.60" cy="191.53" r="3.5" fill="url(#gRu)"/>
<circle cx="387.60" cy="169.84" r="3.5" fill="url(#gRu)"/>
<circle cx="402.60" cy="180.44" r="3.5" fill="url(#gRu)"/>
<circle cx="417.60" cy="159.33" r="3.5" fill="url(#gRu)"/>
<circle cx="417.60" cy="191.53" r="3.5" fill="url(#gRu)"/>
<circle cx="432.60" cy="170.71" r="3.5" fill="url(#gRu)"/>
<circle cx="447.60" cy="182.15" r="3.5" fill="url(#gRu)"/>
<circle cx="462.60" cy="161.80" r="3.5" fill="url(#gRu)"/>
<circle cx="462.60" cy="194.00" r="3.5" fill="url(#gRu)"/>
<circle cx="477.60" cy="173.83" r="3.5" fill="url(#gRu)"/>
<circle cx="492.60" cy="185.79" r="3.5" fill="url(#gRu)"/>
<circle cx="507.60" cy="165.80" r="3.5" fill="url(#gRu)"/>
<circle cx="507.60" cy="198.00" r="3.5" fill="url(#gRu)"/>
<circle cx="50.10" cy="159.69" r="2" fill="url(#gO)"/>
<circle cx="65.10" cy="156.01" r="2" fill="url(#gO)"/>
<circle cx="65.10" cy="172.11" r="2" fill="url(#gO)"/>
<circle cx="50.10" cy="175.79" r="2" fill="url(#gO)"/>
<circle cx="50.10" cy="191.89" r="2" fill="url(#gO)"/>
<circle cx="65.10" cy="188.21" r="2" fill="url(#gO)"/>
<circle cx="65.10" cy="204.31" r="2" fill="url(#gO)"/>
<circle cx="50.10" cy="207.99" r="2" fill="url(#gO)"/>
<circle cx="65.10" cy="171.91" r="2" fill="url(#gO)"/>
<circle cx="80.10" cy="168.20" r="2" fill="url(#gO)"/>
<circle cx="80.10" cy="184.30" r="2" fill="url(#gO)"/>
<circle cx="65.10" cy="188.01" r="2" fill="url(#gO)"/>
<circle cx="80.10" cy="183.90" r="2" fill="url(#gO)"/>
<circle cx="95.10" cy="180.10" r="2" fill="url(#gO)"/>
<circle cx="95.10" cy="196.20" r="2" fill="url(#gO)"/>
<circle cx="80.10" cy="200.00" r="2" fill="url(#gO)"/>
<circle cx="95.10" cy="163.80" r="2" fill="url(#gO)"/>
<circle cx="110.10" cy="159.85" r="2" fill="url(#gO)"/>
<circle cx="110.10" cy="175.95" r="2" fill="url(#gO)"/>
<circle cx="95.10" cy="179.90" r="2" fill="url(#gO)"/>
<circle cx="95.10" cy="196.00" r="2" fill="url(#gO)"/>
<circle cx="110.10" cy="192.05" r="2" fill="url(#gO)"/>
<circle cx="110.10" cy="208.15" r="2" fill="url(#gO)"/>
<circle cx="95.10" cy="212.10" r="2" fill="url(#gO)"/>
<circle cx="110.10" cy="175.75" r="2" fill="url(#gO)"/>
<circle cx="125.10" cy="171.60" r="2" fill="url(#gO)"/>
<circle cx="125.10" cy="187.70" r="2" fill="url(#gO)"/>
<circle cx="110.10" cy="191.85" r="2" fill="url(#gO)"/>
<circle cx="125.10" cy="187.30" r="2" fill="url(#gO)"/>
<circle cx="140.10" cy="182.91" r="2" fill="url(#gO)"/>
<circle cx="140.10" cy="199.01" r="2" fill="url(#gO)"/>
<circle cx="125.10" cy="203.40" r="2" fill="url(#gO)"/>
<circle cx="140.10" cy="166.61" r="2" fill="url(#gO)"/>
<circle cx="155.10" cy="161.95" r="2" fill="url(#gO)"/>
<circle cx="155.10" cy="178.05" r="2" fill="url(#gO)"/>
<circle cx="140.10" cy="182.71" r="2" fill="url(#gO)"/>
<circle cx="140.10" cy="198.81" r="2" fill="url(#gO)"/>
<circle cx="155.10" cy="194.15" r="2" fill="url(#gO)"/>
<circle cx="155.10" cy="210.25" r="2" fill="url(#gO)"/>
<circle cx="140.10" cy="214.91" r="2" fill="url(#gO)"/>
<circle cx="155.10" cy="177.85" r="2" fill="url(#gO)"/>
<circle cx="170.10" cy="172.90" r="2" fill="url(#gO)"/>
<circle cx="170.10" cy="189.00" r="2" fill="url(#gO)"/>
<circle cx="155.10" cy="193.95" r="2" fill="url(#gO)"/>
<circle cx="170.10" cy="188.60" r="2" fill="url(#gO)"/>
<circle cx="185.10" cy="183.35" r="2" fill="url(#gO)"/>
<circle cx="185.10" cy="199.45" r="2" fill="url(#gO)"/>
<circle cx="170.10" cy="204.70" r="2" fill="url(#gO)"/>
<circle cx="185.10" cy="167.05" r="2" fill="url(#gO)"/>
<circle cx="200.10" cy="161.51" r="2" fill="url(#gO)"/>
<circle cx="200.10" cy="177.61" r="2" fill="url(#gO)"/>
<circle cx="185.10" cy="183.15" r="2" fill="url(#gO)"/>
<circle cx="185.10" cy="199.25" r="2" fill="url(#gO)"/>
<circle cx="200.10" cy="193.71" r="2" fill="url(#gO)"/>
<circle cx="200.10" cy="209.81" r="2" fill="url(#gO)"/>
<circle cx="185.10" cy="215.35" r="2" fill="url(#gO)"/>
<circle cx="200.10" cy="177.41" r="2" fill="url(#gO)"/>
<circle cx="215.10" cy="171.60" r="2" fill="url(#gO)"/>
<circle cx="215.10" cy="187.70" r="2" fill="url(#gO)"/>
<circle cx="200.10" cy="193.51" r="2" fill="url(#gO)"/>
<circle cx="215.10" cy="187.30" r="2" fill="url(#gO)"/>
<circle cx="230.10" cy="181.25" r="2" fill="url(#gO)"/>
<circle cx="230.10" cy="197.35" r="2" fill="url(#gO)"/>
<circle cx="215.10" cy="203.40" r="2" fill="url(#gO)"/>
<circle cx="230.10" cy="164.95" r="2" fill="url(#gO)"/>
<circle cx="245.10" cy="158.70" r="2" fill="url(#gO)"/>
<circle cx="245.10" cy="174.80" r="2" fill="url(#gO)"/>
<circle cx="230.10" cy="181.05" r="2" fill="url(#gO)"/>
<circle cx="230.10" cy="197.15" r="2" fill="url(#gO)"/>
<circle cx="245.10" cy="190.90" r="2" fill="url(#gO)"/>
<circle cx="245.10" cy="207.00" r="2" fill="url(#gO)"/>
<circle cx="230.10" cy="213.25" r="2" fill="url(#gO)"/>
<circle cx="245.10" cy="174.60" r="2" fill="url(#gO)"/>
<circle cx="260.10" cy="168.20" r="2" fill="url(#gO)"/>
<circle cx="260.10" cy="184.30" r="2" fill="url(#gO)"/>
<circle cx="245.10" cy="190.70" r="2" fill="url(#gO)"/>
<circle cx="260.10" cy="183.90" r="2" fill="url(#gO)"/>
<circle cx="275.10" cy="177.41" r="2" fill="url(#gO)"/>
<circle cx="275.10" cy="193.51" r="2" fill="url(#gO)"/>
<circle cx="260.10" cy="200.00" r="2" fill="url(#gO)"/>
<circle cx="275.10" cy="161.11" r="2" fill="url(#gO)"/>
<circle cx="290.10" cy="154.59" r="2" fill="url(#gO)"/>
<circle cx="290.10" cy="170.69" r="2" fill="url(#gO)"/>
<circle cx="275.10" cy="177.21" r="2" fill="url(#gO)"/>
<circle cx="275.10" cy="193.31" r="2" fill="url(#gO)"/>
<circle cx="290.10" cy="186.79" r="2" fill="url(#gO)"/>
<circle cx="290.10" cy="202.89" r="2" fill="url(#gO)"/>
<circle cx="275.10" cy="209.41" r="2" fill="url(#gO)"/>
<circle cx="290.10" cy="170.49" r="2" fill="url(#gO)"/>
<circle cx="305.10" cy="164.00" r="2" fill="url(#gO)"/>
<circle cx="305.10" cy="180.10" r="2" fill="url(#gO)"/>
<circle cx="290.10" cy="186.59" r="2" fill="url(#gO)"/>
<circle cx="305.10" cy="179.70" r="2" fill="url(#gO)"/>
<circle cx="320.10" cy="173.30" r="2" fill="url(#gO)"/>
<circle cx="320.10" cy="189.40" r="2" fill="url(#gO)"/>
<circle cx="305.10" cy="195.80" r="2" fill="url(#gO)"/>
<circle cx="320.10" cy="157.00" r="2" fill="url(#gO)"/>
<circle cx="335.10" cy="150.75" r="2" fill="url(#gO)"/>
<circle cx="335.10" cy="166.85" r="2" fill="url(#gO)"/>
<circle cx="320.10" cy="173.10" r="2" fill="url(#gO)"/>
<circle cx="320.10" cy="189.20" r="2" fill="url(#gO)"/>
<circle cx="335.10" cy="182.95" r="2" fill="url(#gO)"/>
<circle cx="335.10" cy="199.05" r="2" fill="url(#gO)"/>
<circle cx="320.10" cy="205.30" r="2" fill="url(#gO)"/>
<circle cx="335.10" cy="166.65" r="2" fill="url(#gO)"/>
<circle cx="350.10" cy="160.60" r="2" fill="url(#gO)"/>
<circle cx="350.10" cy="176.70" r="2" fill="url(#gO)"/>
<circle cx="335.10" cy="182.75" r="2" fill="url(#gO)"/>
<circle cx="350.10" cy="176.30" r="2" fill="url(#gO)"/>
<circle cx="365.10" cy="170.49" r="2" fill="url(#gO)"/>
<circle cx="365.10" cy="186.59" r="2" fill="url(#gO)"/>
<circle cx="350.10" cy="192.40" r="2" fill="url(#gO)"/>
<circle cx="365.10" cy="154.19" r="2" fill="url(#gO)"/>
<circle cx="380.10" cy="148.65" r="2" fill="url(#gO)"/>
<circle cx="380.10" cy="164.75" r="2" fill="url(#gO)"/>
<circle cx="365.10" cy="170.29" r="2" fill="url(#gO)"/>
<circle cx="365.10" cy="186.39" r="2" fill="url(#gO)"/>
<circle cx="380.10" cy="180.85" r="2" fill="url(#gO)"/>
<circle cx="380.10" cy="196.95" r="2" fill="url(#gO)"/>
<circle cx="365.10" cy="202.49" r="2" fill="url(#gO)"/>
<circle cx="380.10" cy="164.55" r="2" fill="url(#gO)"/>
<circle cx="395.10" cy="159.30" r="2" fill="url(#gO)"/>
<circle cx="395.10" cy="175.40" r="2" fill="url(#gO)"/>
<circle cx="380.10" cy="180.65" r="2" fill="url(#gO)"/>
<circle cx="395.10" cy="175.00" r="2" fill="url(#gO)"/>
<circle cx="410.10" cy="170.05" r="2" fill="url(#gO)"/>
<circle cx="410.10" cy="186.15" r="2" fill="url(#gO)"/>
<circle cx="395.10" cy="191.10" r="2" fill="url(#gO)"/>
<circle cx="410.10" cy="153.75" r="2" fill="url(#gO)"/>
<circle cx="425.10" cy="149.09" r="2" fill="url(#gO)"/>
<circle cx="425.10" cy="165.19" r="2" fill="url(#gO)"/>
<circle cx="410.10" cy="169.85" r="2" fill="url(#gO)"/>
<circle cx="410.10" cy="185.95" r="2" fill="url(#gO)"/>
<circle cx="425.10" cy="181.29" r="2" fill="url(#gO)"/>
<circle cx="425.10" cy="197.39" r="2" fill="url(#gO)"/>
<circle cx="410.10" cy="202.05" r="2" fill="url(#gO)"/>
<circle cx="425.10" cy="164.99" r="2" fill="url(#gO)"/>
<circle cx="440.10" cy="160.60" r="2" fill="url(#gO)"/>
<circle cx="440.10" cy="176.70" r="2" fill="url(#gO)"/>
<circle cx="425.10" cy="181.09" r="2" fill="url(#gO)"/>
<circle cx="440.10" cy="176.30" r="2" fill="url(#gO)"/>
<circle cx="455.10" cy="172.15" r="2" fill="url(#gO)"/>
<circle cx="455.10" cy="188.25" r="2" fill="url(#gO)"/>
<circle cx="440.10" cy="192.40" r="2" fill="url(#gO)"/>
<circle cx="455.10" cy="155.85" r="2" fill="url(#gO)"/>
<circle cx="470.10" cy="151.90" r="2" fill="url(#gO)"/>
<circle cx="470.10" cy="168.00" r="2" fill="url(#gO)"/>
<circle cx="455.10" cy="171.95" r="2" fill="url(#gO)"/>
<circle cx="455.10" cy="188.05" r="2" fill="url(#gO)"/>
<circle cx="470.10" cy="184.10" r="2" fill="url(#gO)"/>
<circle cx="470.10" cy="200.20" r="2" fill="url(#gO)"/>
<circle cx="455.10" cy="204.15" r="2" fill="url(#gO)"/>
<circle cx="470.10" cy="167.80" r="2" fill="url(#gO)"/>
<circle cx="485.10" cy="164.00" r="2" fill="url(#gO)"/>
<circle cx="485.10" cy="180.10" r="2" fill="url(#gO)"/>
<circle cx="470.10" cy="183.90" r="2" fill="url(#gO)"/>
<circle cx="485.10" cy="179.70" r="2" fill="url(#gO)"/>
<circle cx="500.10" cy="175.99" r="2" fill="url(#gO)"/>
<circle cx="500.10" cy="192.09" r="2" fill="url(#gO)"/>
<circle cx="485.10" cy="195.80" r="2" fill="url(#gO)"/>
<circle cx="500.10" cy="159.69" r="2" fill="url(#gO)"/>
<circle cx="515.10" cy="156.01" r="2" fill="url(#gO)"/>
<circle cx="515.10" cy="172.11" r="2" fill="url(#gO)"/>
<circle cx="500.10" cy="175.79" r="2" fill="url(#gO)"/>
<circle cx="500.10" cy="191.89" r="2" fill="url(#gO)"/>
<circle cx="515.10" cy="188.21" r="2" fill="url(#gO)"/>
<circle cx="515.10" cy="204.31" r="2" fill="url(#gO)"/>
<circle cx="500.10" cy="207.99" r="2" fill="url(#gO)"/>
<circle cx="80.10" cy="167.90" r="5.6" fill="url(#gSr)"/>
<circle cx="80.10" cy="200.10" r="5.6" fill="url(#gSr)"/>
<circle cx="125.10" cy="171.30" r="5.6" fill="url(#gSr)"/>
<circle cx="125.10" cy="203.50" r="5.6" fill="url(#gSr)"/>
<circle cx="170.10" cy="172.60" r="5.6" fill="url(#gSr)"/>
<circle cx="170.10" cy="204.80" r="5.6" fill="url(#gSr)"/>
<circle cx="215.10" cy="171.30" r="5.6" fill="url(#gSr)"/>
<circle cx="215.10" cy="203.50" r="5.6" fill="url(#gSr)"/>
<circle cx="260.10" cy="167.90" r="5.6" fill="url(#gSr)"/>
<circle cx="260.10" cy="200.10" r="5.6" fill="url(#gSr)"/>
<circle cx="335.10" cy="182.65" r="5.6" fill="url(#gSr)"/>
<circle cx="380.10" cy="180.55" r="5.6" fill="url(#gSr)"/>
<circle cx="425.10" cy="180.99" r="5.6" fill="url(#gSr)"/>
<circle cx="470.10" cy="183.80" r="5.6" fill="url(#gSr)"/>
<polygon points="171,151.8 194.6,192.1 182.8,192.1 182.8,218.8 159.2,218.8 159.2,192.1 146.8,192.1" fill="#fadc94" fill-opacity="0.92" stroke="#000" stroke-width="1.8" stroke-linejoin="miter"/>
<polygon points="384.2,145.5 407.4,145.5 407.4,171.6 420.2,171.6 395.6,212.6 371.8,171.6 384.2,171.6" fill="#fadc94" fill-opacity="0.92" stroke="#000" stroke-width="1.8" stroke-linejoin="miter"/>
<text x="156.6" y="186.7" font-size="13.2" textLength="7.6" lengthAdjust="spacingAndGlyphs" font-style="italic" fill="#222">E</text>
<text x="163.8" y="191.2" font-size="11" textLength="20" lengthAdjust="spacingAndGlyphs" fill="#222">flexo</text>
<text x="380.4" y="183.5" font-size="13.2" textLength="7.6" lengthAdjust="spacingAndGlyphs" font-style="italic" fill="#222">E</text>
<text x="387.6" y="187.5" font-size="11" textLength="20" lengthAdjust="spacingAndGlyphs" fill="#222">flexo</text>
<polygon points="273.9,107.2 283.3,116 292.7,107.2 292.7,122.3 301.5,122.3 283.3,139.4 265,122.3 273.9,122.3" fill="#fff" stroke="#111" stroke-width="1.6" stroke-linejoin="miter"/>
<text x="307.9" y="117.8" font-size="14" textLength="80.4" lengthAdjust="spacingAndGlyphs" fill="#1a1a1a">Shear strain</text>
<text x="307.9" y="133.2" font-size="14" textLength="56.8" lengthAdjust="spacingAndGlyphs" fill="#1a1a1a">gradient</text>
<circle cx="411" cy="128.8" r="7.9" fill="url(#gSrL)"/>
<text x="424" y="134" font-size="14" textLength="13.6" lengthAdjust="spacingAndGlyphs" fill="#1a1a1a">Sr</text>
<circle cx="456.8" cy="128.8" r="4.8" fill="url(#gRuL)"/>
<text x="466" y="134" font-size="14" textLength="16.4" lengthAdjust="spacingAndGlyphs" fill="#1a1a1a">Ru</text>
<circle cx="500.5" cy="128.8" r="2.1" fill="#fff" stroke="#e22" stroke-width="1.3"/>
<text x="507.4" y="134" font-size="14" textLength="11.1" lengthAdjust="spacingAndGlyphs" fill="#1a1a1a">O</text>
<text x="0.9" y="17.4" font-size="20.6" font-weight="bold" fill="#000" stroke="#000" stroke-width="0.9">a</text>
<text x="203.8" y="25.4" font-size="14.2" textLength="119.6" lengthAdjust="spacingAndGlyphs" fill="#1a1a1a">Centrosymmetric</text>
<text x="327.6" y="25.4" font-size="14.2" textLength="44.6" lengthAdjust="spacingAndGlyphs" fill="#1a1a1a">SrRuO</text>
<text x="371.6" y="29.9" font-size="10" fill="#1a1a1a">3</text>
<text x="3.6" y="97.3" font-size="14" fill="#1a1a1a">[</text>
<rect x="11.10" y="87.90" width="1.3" height="9.40" fill="#1a1a1a"/>
<path d="M11.80 88.25 L9.15 90.40" stroke="#1a1a1a" stroke-width="1.25" fill="none"/>
<rect x="16.90" y="87.90" width="1.3" height="9.40" fill="#1a1a1a"/>
<path d="M17.60 88.25 L14.95 90.40" stroke="#1a1a1a" stroke-width="1.25" fill="none"/>
<text x="20.1" y="97.3" font-size="13.2" fill="#1a1a1a">2</text>
<text x="27.6" y="97.3" font-size="14" fill="#1a1a1a">]</text>
<line x1="8.4" y1="83.8" x2="12.9" y2="83.8" stroke="#444" stroke-width="1"/>
<line x1="14.6" y1="83.8" x2="19.1" y2="83.8" stroke="#444" stroke-width="1"/>
<path d="M14.2 126.6 V106 M13.5 126.6 H36" stroke="#111" stroke-width="1.4" fill="none"/>
<path d="M14.2 101.6 L11.5 108.4 L14.2 107.4 L16.9 108.4 Z" fill="#111"/>
<path d="M40.6 126.6 L33.8 123.9 L34.8 126.6 L33.8 129.3 Z" fill="#111"/>
<text x="25.3" y="145.1" font-size="14" fill="#1a1a1a">[</text>
<rect x="32.80" y="135.70" width="1.3" height="9.40" fill="#1a1a1a"/>
<path d="M33.50 136.05 L30.85 138.20" stroke="#1a1a1a" stroke-width="1.25" fill="none"/>
<rect x="38.60" y="135.70" width="1.3" height="9.40" fill="#1a1a1a"/>
<path d="M39.30 136.05 L36.65 138.20" stroke="#1a1a1a" stroke-width="1.25" fill="none"/>
<rect x="44.40" y="135.70" width="1.3" height="9.40" fill="#1a1a1a"/>
<path d="M45.10 136.05 L42.45 138.20" stroke="#1a1a1a" stroke-width="1.25" fill="none"/>
<text x="47.2" y="145.1" font-size="14" fill="#1a1a1a">]</text>
<rect x="79.0" y="218" width="3.2" height="20.0" fill="#00b04f"/>
<path d="M80.6 248.3 L75.6 236.5 L80.6 238.1 L85.6 236.5 Z" fill="#00b04f"/>
<rect x="124.0" y="225.7" width="3.2" height="5.0" fill="#00b04f"/>
<path d="M125.6 241 L120.6 229.2 L125.6 230.79999999999998 L130.6 229.2 Z" fill="#00b04f"/>
<rect x="214.0" y="235.7" width="3.2" height="5.0" fill="#00b04f"/>
<path d="M215.6 225.4 L210.6 237.20000000000002 L215.6 235.60000000000002 L220.6 237.20000000000002 Z" fill="#00b04f"/>
<rect x="259.0" y="229.6" width="3.2" height="17.9" fill="#00b04f"/>
<path d="M260.6 219.3 L255.60000000000002 231.10000000000002 L260.6 229.50000000000003 L265.6 231.10000000000002 Z" fill="#00b04f"/>
<rect x="304.0" y="229.6" width="3.2" height="17.9" fill="#00b04f"/>
<path d="M305.6 219.3 L300.6 231.10000000000002 L305.6 229.50000000000003 L310.6 231.10000000000002 Z" fill="#00b04f"/>
<rect x="349.0" y="235.9" width="3.2" height="4.9" fill="#00b04f"/>
<path d="M350.6 225.6 L345.6 237.4 L350.6 235.8 L355.6 237.4 Z" fill="#00b04f"/>
<rect x="439.0" y="225" width="3.2" height="5.7" fill="#00b04f"/>
<path d="M440.6 241 L435.6 229.2 L440.6 230.79999999999998 L445.6 229.2 Z" fill="#00b04f"/>
<rect x="484.0" y="217.6" width="3.2" height="20.9" fill="#00b04f"/>
<path d="M485.6 248.8 L480.6 237.0 L485.6 238.6 L490.6 237.0 Z" fill="#00b04f"/>
<rect x="167.2" y="231.7" width="6.8" height="2.9" fill="#00b04f"/>
<rect x="392.2" y="231.7" width="6.8" height="2.9" fill="#00b04f"/>
<text x="314.5" y="227.0" font-size="14" font-style="italic" fill="#1a1a1a">u</text>
<text x="322.6" y="230.8" font-size="10" textLength="9.6" lengthAdjust="spacingAndGlyphs" fill="#1a1a1a">31</text>
<text x="0.9" y="269.3" font-size="20.6" font-weight="bold" fill="#000" stroke="#000" stroke-width="0.9">b</text>
<rect x="42.9" y="264.0" width="480.50" height="182.50" fill="none" stroke="#5e5e5e" stroke-width="1.05"/>
<line x1="42.9" y1="279.5" x2="48.1" y2="279.5" stroke="#505050" stroke-width="1"/>
<line x1="518.1999999999999" y1="279.5" x2="523.4" y2="279.5" stroke="#505050" stroke-width="1"/>
<line x1="42.9" y1="355.5" x2="48.1" y2="355.5" stroke="#505050" stroke-width="1"/>
<line x1="518.1999999999999" y1="355.5" x2="523.4" y2="355.5" stroke="#505050" stroke-width="1"/>
<line x1="42.9" y1="431.5" x2="48.1" y2="431.5" stroke="#505050" stroke-width="1"/>
<line x1="518.1999999999999" y1="431.5" x2="523.4" y2="431.5" stroke="#505050" stroke-width="1"/>
<line x1="50.5" y1="446.5" x2="50.5" y2="442.1" stroke="#505050" stroke-width="1"/>
<line x1="65.5" y1="446.5" x2="65.5" y2="442.1" stroke="#505050" stroke-width="1"/>
<line x1="80.5" y1="446.5" x2="80.5" y2="442.1" stroke="#505050" stroke-width="1"/>
<line x1="95.5" y1="446.5" x2="95.5" y2="442.1" stroke="#505050" stroke-width="1"/>
<line x1="110.5" y1="446.5" x2="110.5" y2="442.1" stroke="#505050" stroke-width="1"/>
<line x1="125.5" y1="446.5" x2="125.5" y2="442.1" stroke="#505050" stroke-width="1"/>
<line x1="140.5" y1="446.5" x2="140.5" y2="442.1" stroke="#505050" stroke-width="1"/>
<line x1="155.5" y1="446.5" x2="155.5" y2="442.1" stroke="#505050" stroke-width="1"/>
<line x1="170.5" y1="446.5" x2="170.5" y2="442.1" stroke="#505050" stroke-width="1"/>
<line x1="185.5" y1="446.5" x2="185.5" y2="442.1" stroke="#505050" stroke-width="1"/>
<line x1="200.5" y1="446.5" x2="200.5" y2="442.1" stroke="#505050" stroke-width="1"/>
<line x1="215.5" y1="446.5" x2="215.5" y2="442.1" stroke="#505050" stroke-width="1"/>
<line x1="230.5" y1="446.5" x2="230.5" y2="442.1" stroke="#505050" stroke-width="1"/>
<line x1="245.5" y1="446.5" x2="245.5" y2="442.1" stroke="#505050" stroke-width="1"/>
<line x1="260.5" y1="446.5" x2="260.5" y2="442.1" stroke="#505050" stroke-width="1"/>
<line x1="275.5" y1="446.5" x2="275.5" y2="442.1" stroke="#505050" stroke-width="1"/>
<line x1="290.5" y1="446.5" x2="290.5" y2="442.1" stroke="#505050" stroke-width="1"/>
<line x1="305.5" y1="446.5" x2="305.5" y2="442.1" stroke="#505050" stroke-width="1"/>
<line x1="320.5" y1="446.5" x2="320.5" y2="442.1" stroke="#505050" stroke-width="1"/>
<line x1="335.5" y1="446.5" x2="335.5" y2="442.1" stroke="#505050" stroke-width="1"/>
<line x1="350.5" y1="446.5" x2="350.5" y2="442.1" stroke="#505050" stroke-width="1"/>
<line x1="365.5" y1="446.5" x2="365.5" y2="442.1" stroke="#505050" stroke-width="1"/>
<line x1="380.5" y1="446.5" x2="380.5" y2="442.1" stroke="#505050" stroke-width="1"/>
<line x1="395.5" y1="446.5" x2="395.5" y2="442.1" stroke="#505050" stroke-width="1"/>
<line x1="410.5" y1="446.5" x2="410.5" y2="442.1" stroke="#505050" stroke-width="1"/>
<line x1="425.5" y1="446.5" x2="425.5" y2="442.1" stroke="#505050" stroke-width="1"/>
<line x1="440.5" y1="446.5" x2="440.5" y2="442.1" stroke="#505050" stroke-width="1"/>
<line x1="455.5" y1="446.5" x2="455.5" y2="442.1" stroke="#505050" stroke-width="1"/>
<line x1="470.5" y1="446.5" x2="470.5" y2="442.1" stroke="#505050" stroke-width="1"/>
<line x1="485.5" y1="446.5" x2="485.5" y2="442.1" stroke="#505050" stroke-width="1"/>
<line x1="500.5" y1="446.5" x2="500.5" y2="442.1" stroke="#505050" stroke-width="1"/>
<line x1="515.5" y1="446.5" x2="515.5" y2="442.1" stroke="#505050" stroke-width="1"/>
<rect x="33.80" y="274.80" width="1.3" height="9.10" fill="#1a1a1a"/>
<path d="M34.50 275.15 L31.85 277.30" stroke="#1a1a1a" stroke-width="1.25" fill="none"/>
<ellipse cx="32.40" cy="355.30" rx="3.05" ry="4.05" fill="none" stroke="#1a1a1a" stroke-width="1.3"/>
<line x1="25.90" y1="432.40" x2="31.20" y2="432.40" stroke="#1a1a1a" stroke-width="1.3"/>
<rect x="33.80" y="426.80" width="1.3" height="9.10" fill="#1a1a1a"/>
<path d="M34.50 427.15 L31.85 429.30" stroke="#1a1a1a" stroke-width="1.25" fill="none"/>
<rect x="532.40" y="274.10" width="1.3" height="9.10" fill="#1a1a1a"/>
<path d="M533.10 274.45 L530.45 276.60" stroke="#1a1a1a" stroke-width="1.25" fill="none"/>
<ellipse cx="534.40" cy="355.40" rx="3.05" ry="4.05" fill="none" stroke="#1a1a1a" stroke-width="1.3"/>
<line x1="530.50" y1="432.20" x2="535.80" y2="432.20" stroke="#1a1a1a" stroke-width="1.3"/>
<rect x="538.80" y="426.60" width="1.3" height="9.10" fill="#1a1a1a"/>
<path d="M539.50 426.95 L536.85 429.10" stroke="#1a1a1a" stroke-width="1.25" fill="none"/>
<text transform="translate(13,353.4) rotate(-90)" text-anchor="middle" textLength="133" lengthAdjust="spacingAndGlyphs" font-size="14" fill="#1a1a1a">Shear strain <tspan font-style="italic">u</tspan><tspan font-size="9" dy="3.3">31</tspan><tspan dy="-3.3"> (%)</tspan></text>
<text transform="translate(553.2,359.6) rotate(90)" text-anchor="middle" textLength="114" lengthAdjust="spacingAndGlyphs" font-size="14" fill="#1a1a1a">d<tspan>u</tspan><tspan font-size="9.5" dy="3.3">31</tspan><tspan dy="-3.3">/dz (10</tspan><tspan font-size="9" dy="-5">7</tspan><tspan dy="5"> m</tspan><tspan font-size="9" dy="-5">−1</tspan><tspan dy="5">)</tspan></text>
<path d="M70.97 428.00L74.83 427.58M85.74 425.30L90.06 423.94M100.39 419.71L105.41 417.14M115.02 411.43L120.78 407.50M129.72 400.77L136.08 395.51M144.49 388.13L151.31 381.77M159.36 373.99L166.44 366.92M174.32 358.96L181.48 351.64M189.36 343.68L196.44 336.61M204.49 328.83L211.31 322.47M219.72 315.09L226.08 309.83M235.02 303.10L240.78 299.17M250.39 293.46L255.41 290.89M265.74 286.66L270.06 285.30M280.97 283.02L284.83 282.60M295.97 282.60L299.83 283.02M310.74 285.30L315.06 286.66M325.39 290.89L330.41 293.46M340.02 299.17L345.78 303.10M354.72 309.83L361.08 315.09M369.49 322.47L376.31 328.83M384.36 336.61L391.44 343.68M399.32 351.64L406.48 358.96M414.36 366.92L421.44 373.99M429.49 381.77L436.31 388.13M444.72 395.51L451.08 400.77M460.02 407.50L465.78 411.43M475.39 417.14L480.41 419.71M490.74 423.94L495.06 425.30" fill="none" stroke="#0a8c0a" stroke-width="1.4"/>
<path d="M65.4 422.7 L70.9 431.6 L59.9 431.6 Z" fill="#0a8c0a"/>
<path d="M80.4 421.1 L85.9 430.0 L74.9 430.0 Z" fill="#0a8c0a"/>
<path d="M95.4 416.4 L100.9 425.3 L89.9 425.3 Z" fill="#0a8c0a"/>
<path d="M110.4 408.7 L115.9 417.6 L104.9 417.6 Z" fill="#0a8c0a"/>
<path d="M125.4 398.4 L130.9 407.3 L119.9 407.3 Z" fill="#0a8c0a"/>
<path d="M140.4 386.0 L145.9 394.9 L134.9 394.9 Z" fill="#0a8c0a"/>
<path d="M155.4 372.0 L160.9 380.9 L149.9 380.9 Z" fill="#0a8c0a"/>
<path d="M170.4 357.1 L175.9 366.0 L164.9 366.0 Z" fill="#0a8c0a"/>
<path d="M185.4 341.7 L190.9 350.6 L179.9 350.6 Z" fill="#0a8c0a"/>
<path d="M200.4 326.8 L205.9 335.7 L194.9 335.7 Z" fill="#0a8c0a"/>
<path d="M215.4 312.8 L220.9 321.7 L209.9 321.7 Z" fill="#0a8c0a"/>
<path d="M230.4 300.4 L235.9 309.3 L224.9 309.3 Z" fill="#0a8c0a"/>
<path d="M245.4 290.1 L250.9 299.0 L239.9 299.0 Z" fill="#0a8c0a"/>
<path d="M260.4 282.4 L265.9 291.3 L254.9 291.3 Z" fill="#0a8c0a"/>
<path d="M275.4 277.7 L280.9 286.6 L269.9 286.6 Z" fill="#0a8c0a"/>
<path d="M290.4 276.1 L295.9 285.0 L284.9 285.0 Z" fill="#0a8c0a"/>
<path d="M305.4 277.7 L310.9 286.6 L299.9 286.6 Z" fill="#0a8c0a"/>
<path d="M320.4 282.4 L325.9 291.3 L314.9 291.3 Z" fill="#0a8c0a"/>
<path d="M335.4 290.1 L340.9 299.0 L329.9 299.0 Z" fill="#0a8c0a"/>
<path d="M350.4 300.4 L355.9 309.3 L344.9 309.3 Z" fill="#0a8c0a"/>
<path d="M365.4 312.8 L370.9 321.7 L359.9 321.7 Z" fill="#0a8c0a"/>
<path d="M380.4 326.8 L385.9 335.7 L374.9 335.7 Z" fill="#0a8c0a"/>
<path d="M395.4 341.7 L400.9 350.6 L389.9 350.6 Z" fill="#0a8c0a"/>
<path d="M410.4 357.1 L415.9 366.0 L404.9 366.0 Z" fill="#0a8c0a"/>
<path d="M425.4 372.0 L430.9 380.9 L419.9 380.9 Z" fill="#0a8c0a"/>
<path d="M440.4 386.0 L445.9 394.9 L434.9 394.9 Z" fill="#0a8c0a"/>
<path d="M455.4 398.4 L460.9 407.3 L449.9 407.3 Z" fill="#0a8c0a"/>
<path d="M470.4 408.7 L475.9 417.6 L464.9 417.6 Z" fill="#0a8c0a"/>
<path d="M485.4 416.4 L490.9 425.3 L479.9 425.3 Z" fill="#0a8c0a"/>
<path d="M500.4 421.1 L505.9 430.0 L494.9 430.0 Z" fill="#0a8c0a"/>
<path d="M69.32 351.59L76.48 344.80M84.40 337.46L91.40 331.12M99.57 324.06L106.23 318.56M114.81 312.00L120.99 307.62M130.11 301.86L135.69 298.74M145.44 294.15L150.36 292.24M160.70 289.24L165.10 288.37M175.80 287.32L180.00 287.32M190.70 288.37L195.10 289.24M205.44 292.24L210.36 294.15M220.11 298.74L225.69 301.86M234.81 307.62L240.99 312.00M249.57 318.56L256.23 324.06M264.40 331.12L271.40 337.46M279.32 344.80L286.48 351.59M294.32 359.01L301.48 365.80M309.40 373.14L316.40 379.48M324.57 386.54L331.23 392.04M339.81 398.60L345.99 402.98M355.11 408.74L360.69 411.86M370.44 416.45L375.36 418.36M385.70 421.36L390.10 422.23M400.80 423.28L405.00 423.28M415.70 422.23L420.10 421.36M430.44 418.36L435.36 416.45M445.11 411.86L450.69 408.74M459.81 402.98L465.99 398.60M474.57 392.04L481.23 386.54M489.40 379.48L496.40 373.14" fill="none" stroke="#efb43c" stroke-width="1.3"/>
<rect x="61.75" y="351.65" width="7.3" height="7.3" fill="#e8ae2e"/>
<rect x="76.75" y="337.44" width="7.3" height="7.3" fill="#e8ae2e"/>
<rect x="91.75" y="323.85" width="7.3" height="7.3" fill="#e8ae2e"/>
<rect x="106.75" y="311.47" width="7.3" height="7.3" fill="#e8ae2e"/>
<rect x="121.75" y="300.85" width="7.3" height="7.3" fill="#e8ae2e"/>
<rect x="136.75" y="292.45" width="7.3" height="7.3" fill="#e8ae2e"/>
<rect x="151.75" y="286.64" width="7.3" height="7.3" fill="#e8ae2e"/>
<rect x="166.75" y="283.67" width="7.3" height="7.3" fill="#e8ae2e"/>
<rect x="181.75" y="283.67" width="7.3" height="7.3" fill="#e8ae2e"/>
<rect x="196.75" y="286.64" width="7.3" height="7.3" fill="#e8ae2e"/>
<rect x="211.75" y="292.45" width="7.3" height="7.3" fill="#e8ae2e"/>
<rect x="226.75" y="300.85" width="7.3" height="7.3" fill="#e8ae2e"/>
<rect x="241.75" y="311.47" width="7.3" height="7.3" fill="#e8ae2e"/>
<rect x="256.75" y="323.85" width="7.3" height="7.3" fill="#e8ae2e"/>
<rect x="271.75" y="337.44" width="7.3" height="7.3" fill="#e8ae2e"/>
<rect x="286.75" y="351.65" width="7.3" height="7.3" fill="#e8ae2e"/>
<rect x="301.75" y="365.86" width="7.3" height="7.3" fill="#e8ae2e"/>
<rect x="316.75" y="379.45" width="7.3" height="7.3" fill="#e8ae2e"/>
<rect x="331.75" y="391.83" width="7.3" height="7.3" fill="#e8ae2e"/>
<rect x="346.75" y="402.45" width="7.3" height="7.3" fill="#e8ae2e"/>
<rect x="361.75" y="410.85" width="7.3" height="7.3" fill="#e8ae2e"/>
<rect x="376.75" y="416.66" width="7.3" height="7.3" fill="#e8ae2e"/>
<rect x="391.75" y="419.63" width="7.3" height="7.3" fill="#e8ae2e"/>
<rect x="406.75" y="419.63" width="7.3" height="7.3" fill="#e8ae2e"/>
<rect x="421.75" y="416.66" width="7.3" height="7.3" fill="#e8ae2e"/>
<rect x="436.75" y="410.85" width="7.3" height="7.3" fill="#e8ae2e"/>
<rect x="451.75" y="402.45" width="7.3" height="7.3" fill="#e8ae2e"/>
<rect x="466.75" y="391.83" width="7.3" height="7.3" fill="#e8ae2e"/>
<rect x="481.75" y="379.45" width="7.3" height="7.3" fill="#e8ae2e"/>
<rect x="496.75" y="365.86" width="7.3" height="7.3" fill="#e8ae2e"/>
<path d="M164.0 374.9 A8.3 22 0 1 1 162.4 363.9" fill="none" stroke="#111" stroke-width="1.8"/>
<path d="M155.7 355.3 H124" stroke="#111" stroke-width="1.3"/>
<path d="M120.2 355.3 L126.6 352.6 L125.6 355.3 L126.6 358 Z" fill="#111"/>
<path d="M282.55 351.2 A8.3 22.3 0 1 0 283.7 342" fill="none" stroke="#111" stroke-width="1.8"/>
<path d="M290.8 332 H322" stroke="#111" stroke-width="1.3"/>
<path d="M326 332 L319.6 329.3 L320.6 332 L319.6 334.7 Z" fill="#111"/>
<text x="0.9" y="461.1" font-size="20.6" font-weight="bold" fill="#000" stroke="#000" stroke-width="0.9">c</text>
<rect x="42.9" y="458.5" width="480.50" height="182.80" fill="none" stroke="#5e5e5e" stroke-width="1.05"/>
<line x1="42.9" y1="549.5" x2="48.1" y2="549.5" stroke="#505050" stroke-width="1"/>
<line x1="50.5" y1="641.3" x2="50.5" y2="636.9" stroke="#505050" stroke-width="1"/>
<line x1="65.5" y1="641.3" x2="65.5" y2="636.9" stroke="#505050" stroke-width="1"/>
<line x1="80.5" y1="641.3" x2="80.5" y2="636.9" stroke="#505050" stroke-width="1"/>
<line x1="95.5" y1="641.3" x2="95.5" y2="636.9" stroke="#505050" stroke-width="1"/>
<line x1="110.5" y1="641.3" x2="110.5" y2="636.9" stroke="#505050" stroke-width="1"/>
<line x1="125.5" y1="641.3" x2="125.5" y2="636.9" stroke="#505050" stroke-width="1"/>
<line x1="140.5" y1="641.3" x2="140.5" y2="636.9" stroke="#505050" stroke-width="1"/>
<line x1="155.5" y1="641.3" x2="155.5" y2="636.9" stroke="#505050" stroke-width="1"/>
<line x1="170.5" y1="641.3" x2="170.5" y2="636.9" stroke="#505050" stroke-width="1"/>
<line x1="185.5" y1="641.3" x2="185.5" y2="636.9" stroke="#505050" stroke-width="1"/>
<line x1="200.5" y1="641.3" x2="200.5" y2="636.9" stroke="#505050" stroke-width="1"/>
<line x1="215.5" y1="641.3" x2="215.5" y2="636.9" stroke="#505050" stroke-width="1"/>
<line x1="230.5" y1="641.3" x2="230.5" y2="636.9" stroke="#505050" stroke-width="1"/>
<line x1="245.5" y1="641.3" x2="245.5" y2="636.9" stroke="#505050" stroke-width="1"/>
<line x1="260.5" y1="641.3" x2="260.5" y2="636.9" stroke="#505050" stroke-width="1"/>
<line x1="275.5" y1="641.3" x2="275.5" y2="636.9" stroke="#505050" stroke-width="1"/>
<line x1="290.5" y1="641.3" x2="290.5" y2="636.9" stroke="#505050" stroke-width="1"/>
<line x1="305.5" y1="641.3" x2="305.5" y2="636.9" stroke="#505050" stroke-width="1"/>
<line x1="320.5" y1="641.3" x2="320.5" y2="636.9" stroke="#505050" stroke-width="1"/>
<line x1="335.5" y1="641.3" x2="335.5" y2="636.9" stroke="#505050" stroke-width="1"/>
<line x1="350.5" y1="641.3" x2="350.5" y2="636.9" stroke="#505050" stroke-width="1"/>
<line x1="365.5" y1="641.3" x2="365.5" y2="636.9" stroke="#505050" stroke-width="1"/>
<line x1="380.5" y1="641.3" x2="380.5" y2="636.9" stroke="#505050" stroke-width="1"/>
<line x1="395.5" y1="641.3" x2="395.5" y2="636.9" stroke="#505050" stroke-width="1"/>
<line x1="410.5" y1="641.3" x2="410.5" y2="636.9" stroke="#505050" stroke-width="1"/>
<line x1="425.5" y1="641.3" x2="425.5" y2="636.9" stroke="#505050" stroke-width="1"/>
<line x1="440.5" y1="641.3" x2="440.5" y2="636.9" stroke="#505050" stroke-width="1"/>
<line x1="455.5" y1="641.3" x2="455.5" y2="636.9" stroke="#505050" stroke-width="1"/>
<line x1="470.5" y1="641.3" x2="470.5" y2="636.9" stroke="#505050" stroke-width="1"/>
<line x1="485.5" y1="641.3" x2="485.5" y2="636.9" stroke="#505050" stroke-width="1"/>
<line x1="500.5" y1="641.3" x2="500.5" y2="636.9" stroke="#505050" stroke-width="1"/>
<line x1="515.5" y1="641.3" x2="515.5" y2="636.9" stroke="#505050" stroke-width="1"/>
<rect x="33.90" y="454.00" width="1.3" height="9.10" fill="#1a1a1a"/>
<path d="M34.60 454.35 L31.95 456.50" stroke="#1a1a1a" stroke-width="1.25" fill="none"/>
<ellipse cx="32.40" cy="549.40" rx="3.05" ry="4.05" fill="none" stroke="#1a1a1a" stroke-width="1.3"/>
<line x1="26.00" y1="642.60" x2="31.30" y2="642.60" stroke="#1a1a1a" stroke-width="1.3"/>
<rect x="34.00" y="637.00" width="1.3" height="9.10" fill="#1a1a1a"/>
<path d="M34.70 637.35 L32.05 639.50" stroke="#1a1a1a" stroke-width="1.25" fill="none"/>
<text transform="translate(15,552.2) rotate(-90)" text-anchor="middle" textLength="150.5" lengthAdjust="spacingAndGlyphs" font-size="14" fill="#1a1a1a">Ru off-centring δ (pm)</text>
<path d="M61.74 545.73L68.48 539.58M76.84 532.12L83.42 526.38M92.03 519.22L98.27 514.26M107.29 507.62L113.05 503.70M122.61 497.88L127.77 495.10M137.95 490.49L142.47 488.80M153.22 485.80L157.24 485.03M168.34 483.98L172.16 483.98M183.26 485.03L187.28 485.80M198.03 488.80L202.55 490.49M212.73 495.10L217.89 497.88M227.45 503.70L233.21 507.62M242.23 514.26L248.47 519.22M257.08 526.38L263.66 532.12M272.02 539.58L278.76 545.73M287.04 553.27L293.78 559.42M302.14 566.88L308.72 572.62M317.33 579.78L323.57 584.74M332.59 591.38L338.35 595.30M347.91 601.12L353.07 603.90M363.25 608.51L367.77 610.20M378.52 613.20L382.54 613.97M393.64 615.02L397.46 615.02M408.56 613.97L412.58 613.20M423.33 610.20L427.85 608.51M438.03 603.90L443.19 601.12M452.75 595.30L458.51 591.38M467.53 584.74L473.77 579.78M482.38 572.62L488.96 566.88M497.32 559.42L504.06 553.27" fill="none" stroke="#ff2020" stroke-width="1.3"/>
<circle cx="57.6" cy="549.5" r="4.65" fill="#ff0000"/>
<circle cx="72.6" cy="535.8" r="4.65" fill="#ff0000"/>
<circle cx="87.6" cy="522.7" r="4.65" fill="#ff0000"/>
<circle cx="102.7" cy="510.8" r="4.65" fill="#ff0000"/>
<circle cx="117.7" cy="500.5" r="4.65" fill="#ff0000"/>
<circle cx="132.7" cy="492.4" r="4.65" fill="#ff0000"/>
<circle cx="147.7" cy="486.8" r="4.65" fill="#ff0000"/>
<circle cx="162.7" cy="484.0" r="4.65" fill="#ff0000"/>
<circle cx="177.8" cy="484.0" r="4.65" fill="#ff0000"/>
<circle cx="192.8" cy="486.8" r="4.65" fill="#ff0000"/>
<circle cx="207.8" cy="492.4" r="4.65" fill="#ff0000"/>
<circle cx="222.8" cy="500.5" r="4.65" fill="#ff0000"/>
<circle cx="237.8" cy="510.8" r="4.65" fill="#ff0000"/>
<circle cx="252.9" cy="522.7" r="4.65" fill="#ff0000"/>
<circle cx="267.9" cy="535.8" r="4.65" fill="#ff0000"/>
<circle cx="282.9" cy="549.5" r="4.65" fill="#ff0000"/>
<circle cx="297.9" cy="563.2" r="4.65" fill="#ff0000"/>
<circle cx="312.9" cy="576.3" r="4.65" fill="#ff0000"/>
<circle cx="328.0" cy="588.2" r="4.65" fill="#ff0000"/>
<circle cx="343.0" cy="598.5" r="4.65" fill="#ff0000"/>
<circle cx="358.0" cy="606.6" r="4.65" fill="#ff0000"/>
<circle cx="373.0" cy="612.2" r="4.65" fill="#ff0000"/>
<circle cx="388.0" cy="615.0" r="4.65" fill="#ff0000"/>
<circle cx="403.1" cy="615.0" r="4.65" fill="#ff0000"/>
<circle cx="418.1" cy="612.2" r="4.65" fill="#ff0000"/>
<circle cx="433.1" cy="606.6" r="4.65" fill="#ff0000"/>
<circle cx="448.1" cy="598.5" r="4.65" fill="#ff0000"/>
<circle cx="463.1" cy="588.2" r="4.65" fill="#ff0000"/>
<circle cx="478.2" cy="576.3" r="4.65" fill="#ff0000"/>
<circle cx="493.2" cy="563.2" r="4.65" fill="#ff0000"/>
<circle cx="508.2" cy="549.5" r="4.65" fill="#ff0000"/>
<rect x="65.00" y="647.80" width="1.3" height="9.10" fill="#1a1a1a"/>
<path d="M65.70 648.15 L63.05 650.30" stroke="#1a1a1a" stroke-width="1.25" fill="none"/>
<rect x="212.40" y="647.80" width="1.3" height="9.10" fill="#1a1a1a"/>
<path d="M213.10 648.15 L210.45 650.30" stroke="#1a1a1a" stroke-width="1.25" fill="none"/>
<rect x="217.80" y="647.80" width="1.3" height="9.10" fill="#1a1a1a"/>
<path d="M218.50 648.15 L215.85 650.30" stroke="#1a1a1a" stroke-width="1.25" fill="none"/>
<text x="359.45" y="656.90" font-size="12.7" fill="#1a1a1a">2</text>
<rect x="368.80" y="647.80" width="1.3" height="9.10" fill="#1a1a1a"/>
<path d="M369.50 648.15 L366.85 650.30" stroke="#1a1a1a" stroke-width="1.25" fill="none"/>
<text x="510.15" y="656.90" font-size="12.7" fill="#1a1a1a">3</text>
<rect x="520.00" y="647.80" width="1.3" height="9.10" fill="#1a1a1a"/>
<path d="M520.70 648.15 L518.05 650.30" stroke="#1a1a1a" stroke-width="1.25" fill="none"/>
<text x="244" y="681" font-size="14" textLength="77.6" lengthAdjust="spacingAndGlyphs" fill="#1a1a1a">Layer index</text>
<clipPath id="clipI"><rect x="112.4" y="520.2" width="116.5" height="106.2"/></clipPath>
<rect x="112.4" y="520.2" width="116.5" height="106.2" fill="#fff"/>
<g clip-path="url(#clipI)">
<polygon points="194.6,500.0 240.0,500.0 240.0,524.8 194.6,538.9" fill="#6aa6e8"/>
<polygon points="194.6,587.5 240.0,576.1 240.0,640.0 194.6,640.0" fill="#6aa6e8"/>
<circle cx="147.4" cy="605.9" r="17.6" fill="url(#gSr2)"/>
<circle cx="194.6" cy="539.2" r="17.6" fill="url(#gSr2)"/>
<circle cx="100.5" cy="572.3" r="17.6" fill="url(#gSr2)"/>
<circle cx="241.6" cy="572.7" r="17.6" fill="url(#gSr2)"/>
<circle cx="147.7" cy="505.3" r="17.6" fill="url(#gSr2)"/>
<circle cx="194.4" cy="639.4" r="17.6" fill="url(#gSr2)"/>
<polygon points="100.0,500.0 147.4,500.0 147.4,558.3 100.0,571.1" fill="#6aa6e8"/>
<polygon points="100.0,621.6 147.4,608.8 147.4,640.0 100.0,640.0" fill="#6aa6e8"/>
<polygon points="147.4,555.8 194.6,543.1 194.6,591.5 147.4,604.2" fill="#6aa6e8"/>
<line x1="100" y1="522.6" x2="240" y2="621.3" stroke="#e0303a" stroke-width="1.1" stroke-dasharray="3 2.2"/>
<line x1="100" y1="672.6" x2="240" y2="475.2" stroke="#e0303a" stroke-width="1.1" stroke-dasharray="3 2.2"/>
<line x1="100" y1="573.0" x2="240" y2="375.6" stroke="#e0303a" stroke-width="1.1" stroke-dasharray="3 2.2"/>
<line x1="100" y1="772.4" x2="240" y2="575.0" stroke="#e0303a" stroke-width="1.1" stroke-dasharray="3 2.2"/>
<circle cx="147.4" cy="556" r="6" fill="url(#gO2)"/>
<circle cx="194.6" cy="539.2" r="6" fill="url(#gO2)"/>
<circle cx="194.6" cy="589.5" r="6" fill="url(#gO2)"/>
<circle cx="147.4" cy="605.9" r="6" fill="url(#gO2)"/>
<circle cx="124.1" cy="526.5" r="7.5" fill="url(#gRu2)"/>
<circle cx="171.3" cy="559.8" r="7.5" fill="url(#gRu2)"/>
<circle cx="218.3" cy="592.6" r="7.5" fill="url(#gRu2)"/>
<circle cx="124.1" cy="624.4" r="7.5" fill="url(#gRu2)"/>
<circle cx="171.4" cy="573.2" r="7.4" fill="none" stroke="#111" stroke-width="0.9" stroke-dasharray="1.6 1.3"/>
<line x1="170.5" y1="559.8" x2="205" y2="559.8" stroke="#111" stroke-width="1.3" stroke-dasharray="3 1.4"/>
<line x1="170.5" y1="573.3" x2="205" y2="573.3" stroke="#111" stroke-width="1.3" stroke-dasharray="3 1.4"/>
<rect x="199" y="565.5" width="2" height="8" fill="#f00"/>
<path d="M200 559.3 L203.3 567 L200 566 L196.7 567 Z" fill="#f00"/>
<text x="206.8" y="568" font-size="15" fill="#111">δ</text>
</g>
<rect x="112.4" y="520.2" width="116.5" height="106.2" fill="none" stroke="#000" stroke-width="2"/>
</svg>
</body></html>
